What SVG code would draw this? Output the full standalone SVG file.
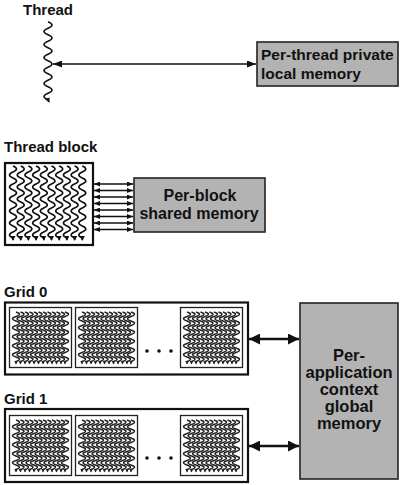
<svg xmlns="http://www.w3.org/2000/svg" xmlns:xlink="http://www.w3.org/1999/xlink" width="400" height="485" viewBox="0 0 400 485">
<style>
text{font-family:"Liberation Sans",Arial,sans-serif;font-weight:bold;fill:#111}
.lbl{font-size:15px}
.mem{fill:#b3b3b3;stroke:#222;stroke-width:1.6}
.box{fill:#fff;stroke:#111;stroke-width:2.2}
.mbox{fill:#fff;stroke:#222;stroke-width:1.3}
.wave{fill:none;stroke:#111;stroke-width:1.6}
.mw{fill:none;stroke:#222;stroke-width:1.4}
.thin{stroke:#111;stroke-width:1.3}
.thick{stroke:#111;stroke-width:2.6}
</style>
<defs>
<marker id="sa" viewBox="0 0 9 7" refX="9" refY="3.5" markerWidth="9" markerHeight="7" markerUnits="userSpaceOnUse" orient="auto-start-reverse"><path d="M0,0L9,3.5L0,7z" fill="#111"/></marker>
<marker id="sb" viewBox="0 0 6 5" refX="6" refY="2.5" markerWidth="6" markerHeight="5" markerUnits="userSpaceOnUse" orient="auto-start-reverse"><path d="M0,0L6,2.5L0,5z" fill="#111"/></marker>
<marker id="ba" viewBox="0 0 11 11" refX="11" refY="5.5" markerWidth="11" markerHeight="11" markerUnits="userSpaceOnUse" orient="auto-start-reverse"><path d="M0,0L11,5.5L0,11z" fill="#111"/></marker>
<marker id="wa" viewBox="0 0 5 5" refX="4" refY="2.5" markerWidth="5" markerHeight="5" markerUnits="userSpaceOnUse" orient="auto"><path d="M0,0L5,2.5L0,5z" fill="#111"/></marker>
<marker id="wm" viewBox="0 0 4 4" refX="3" refY="2" markerWidth="4" markerHeight="4" markerUnits="userSpaceOnUse" orient="auto"><path d="M0,0L4,2L0,4z" fill="#222"/></marker>
<path id="w2" class="wave" marker-end="url(#wa)" d="M0,0 q7,3 0,6 t0,6 t0,6 t0,6 t0,6 t0,6 t0,6 t0,6 t0,6 t0,6 t0,6 t0,6 l0,2"/>
<path id="w3" class="mw" marker-end="url(#wm)" d="M0,0 q7,2.25 0,4.5 t0,4.5 t0,4.5 t0,4.5 t0,4.5 t0,4.5 t0,4.5 t0,4.5 t0,4.5 t0,4.5 t0,4.5 l0,2"/>
<g id="mini">
<rect class="mbox" x="0.5" y="0.5" width="62" height="60"/>
<use href="#w3" x="7" y="5"/><use href="#w3" x="11.5" y="5"/><use href="#w3" x="16" y="5"/><use href="#w3" x="20.5" y="5"/>
<use href="#w3" x="25" y="5"/><use href="#w3" x="29.5" y="5"/><use href="#w3" x="34" y="5"/><use href="#w3" x="38.5" y="5"/>
<use href="#w3" x="43" y="5"/><use href="#w3" x="47.5" y="5"/><use href="#w3" x="52" y="5"/><use href="#w3" x="56" y="5"/>
</g>
</defs>

<g id="thread">
<text class="lbl" x="23" y="15">Thread</text>
<path class="wave" marker-end="url(#wa)" d="M48,21.75 q8,3.25 0,6.5 t0,6.5 t0,6.5 t0,6.5 t0,6.5 t0,6.5 t0,6.5 t0,6.5 t0,6.5 t0,6.5 t0,6.5 t0,6.5 l1,2"/>
</g>

<g id="thread-memory">
<rect class="mem" x="257" y="42" width="141" height="44"/>
<text x="261" y="60" style="font-size:15.5px">Per-thread private</text>
<text x="261" y="78.5" style="font-size:15.5px">local memory</text>
</g>

<g id="thread-block">
<text class="lbl" x="4" y="152">Thread block</text>
<rect class="box" x="5" y="163" width="88" height="82"/>
<use href="#w2" x="13" y="166"/><use href="#w2" x="20.7" y="166"/><use href="#w2" x="28.4" y="166"/><use href="#w2" x="36.1" y="166"/><use href="#w2" x="43.8" y="166"/>
<use href="#w2" x="51.5" y="166"/><use href="#w2" x="59.2" y="166"/><use href="#w2" x="66.9" y="166"/><use href="#w2" x="74.6" y="166"/><use href="#w2" x="82.3" y="166"/>
</g>

<g id="block-memory">
<rect class="mem" x="134" y="178" width="131" height="54"/>
<text x="200" y="201" text-anchor="middle" style="font-size:16px">Per-block</text>
<text x="199" y="219" text-anchor="middle" style="font-size:16px">shared memory</text>
</g>

<g id="grid0">
<text class="lbl" x="4" y="297">Grid 0</text>
<rect class="box" x="5" y="302.5" width="243" height="72"/>
<use href="#mini" x="9" y="307"/>
<use href="#mini" x="75" y="307"/>
<use href="#mini" x="180" y="307"/>
<circle cx="147" cy="351" r="1.8" fill="#111"/><circle cx="159" cy="351" r="1.8" fill="#111"/><circle cx="171" cy="351" r="1.8" fill="#111"/>
</g>

<g id="grid1">
<text class="lbl" x="4" y="404">Grid 1</text>
<rect class="box" x="5" y="409" width="243" height="73"/>
<use href="#mini" x="9" y="415"/>
<use href="#mini" x="75" y="415"/>
<use href="#mini" x="180" y="415"/>
<circle cx="147" cy="458" r="1.8" fill="#111"/><circle cx="159" cy="458" r="1.8" fill="#111"/><circle cx="171" cy="458" r="1.8" fill="#111"/>
</g>

<g id="global-memory">
<rect class="mem" x="300" y="303" width="98" height="176"/>
<g text-anchor="middle" style="font-size:16.5px">
<text x="349" y="361">Per-</text>
<text x="349" y="378">application</text>
<text x="349" y="395">context</text>
<text x="349" y="412">global</text>
<text x="349" y="429">memory</text>
</g>
</g>

<g id="connectors">
<line class="thin" x1="53" y1="64" x2="256" y2="64" marker-start="url(#sa)" marker-end="url(#sa)"/>
<line class="thin" x1="94" y1="184" x2="133" y2="184" marker-start="url(#sb)" marker-end="url(#sb)"/>
<line class="thin" x1="94" y1="190.5" x2="133" y2="190.5" marker-start="url(#sb)" marker-end="url(#sb)"/>
<line class="thin" x1="94" y1="197" x2="133" y2="197" marker-start="url(#sb)" marker-end="url(#sb)"/>
<line class="thin" x1="94" y1="203.5" x2="133" y2="203.5" marker-start="url(#sb)" marker-end="url(#sb)"/>
<line class="thin" x1="94" y1="210" x2="133" y2="210" marker-start="url(#sb)" marker-end="url(#sb)"/>
<line class="thin" x1="94" y1="216.5" x2="133" y2="216.5" marker-start="url(#sb)" marker-end="url(#sb)"/>
<line class="thin" x1="94" y1="223" x2="133" y2="223" marker-start="url(#sb)" marker-end="url(#sb)"/>
<line class="thin" x1="94" y1="229.5" x2="133" y2="229.5" marker-start="url(#sb)" marker-end="url(#sb)"/>
<line class="thick" x1="249" y1="339" x2="299" y2="339" marker-start="url(#ba)" marker-end="url(#ba)"/>
<line class="thick" x1="249" y1="446" x2="299" y2="446" marker-start="url(#ba)" marker-end="url(#ba)"/>
</g>
</svg>
